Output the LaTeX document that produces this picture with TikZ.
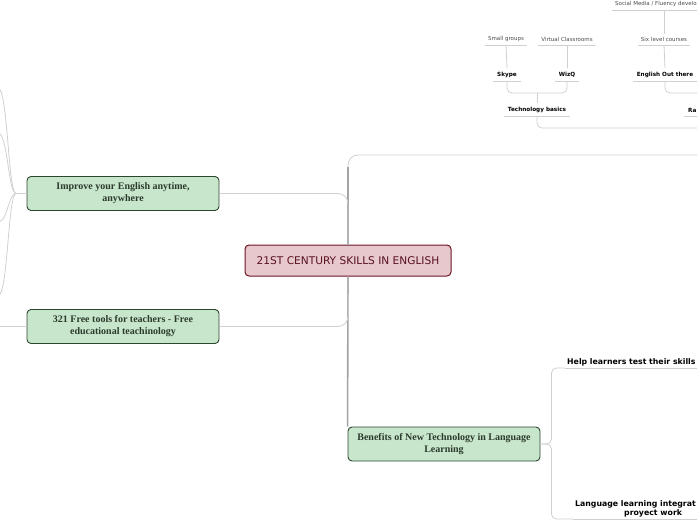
\documentclass[tikz,border=0pt]{standalone}
\usepackage{fontspec}
\setmainfont{Liberation Serif}
\setsansfont{DejaVu Sans}
\usetikzlibrary{positioning}
\definecolor{topicfill}{HTML}{C8E6CB}
\definecolor{topicline}{HTML}{2C4630}
\definecolor{topictext}{HTML}{2B3A2C}
\definecolor{rootfill}{HTML}{E6C8CD}
\definecolor{rootline}{HTML}{6A1426}
\definecolor{branchgray}{HTML}{D0D0D0}
\definecolor{trunkgray}{HTML}{A3A3A3}
\tikzset{
  topic/.style={draw=topicline, fill=topicfill, line width=0.9pt, rounded corners=4pt, minimum width=192pt, minimum height=34pt, align=center, text=topictext, font=\bfseries\fontsize{10}{12}\selectfont},
  rootbox/.style={draw=rootline, fill=rootfill, line width=1pt, rounded corners=4pt, minimum width=206pt, minimum height=31pt, text=rootline!85!black, font=\sffamily\fontsize{10.6}{12}\selectfont},
  subtopic/.style={font=\sffamily\bfseries\fontsize{5.7}{7}\selectfont, inner xsep=4pt, inner ysep=3.5pt},
  leaf/.style={font=\sffamily\fontsize{5.5}{7}\selectfont, text=black!70, inner xsep=3pt, inner ysep=3pt},
  bigleaf/.style={font=\sffamily\bfseries\fontsize{7.8}{9}\selectfont, align=left, inner xsep=2pt, inner ysep=2pt},
  branch/.style={draw=branchgray, line width=0.8pt, rounded corners=5pt},
  trunk/.style={draw=trunkgray, line width=1.6pt},
}

\begin{document}
\begin{tikzpicture}[x=1pt, y=-1pt]
    \useasboundingbox (0,0) rectangle (697,520);

    \node[rootbox] (root) at (348,260.5) {21ST CENTURY SKILLS IN ENGLISH};
    \node[topic] (improve) at (123,193.5) {Improve your English anytime,\\ anywhere};
    \node[topic] (tools) at (123,326.5) {321 Free tools for teachers - Free\\ educational teachinology};
    \node[topic] (benefits) at (444,444) {Benefits of New Technology in Language\\ Learning};

    \node[leaf, anchor=south] (small) at (506,45) {Small groups};
    \node[leaf, anchor=south] (virtual) at (567,45) {Virtual Classrooms};
    \node[subtopic, anchor=south] (skype) at (507,81) {Skype};
    \node[subtopic, anchor=south] (wizq) at (567,81) {WizQ};
    \node[subtopic, anchor=south] (techbasics) at (537,116) {Technology basics};
    \node[leaf, anchor=south west] (social) at (612,10) {Social Media / Fluency develo};
    \node[leaf, anchor=south] (sixlevel) at (664,45) {Six level courses};
    \node[subtopic, anchor=south] (english) at (665,81) {English Out there};
    \node[subtopic, anchor=south west] (ra) at (684,116) {Ra};

    \node[bigleaf, anchor=south west] (help) at (565,368) {Help learners test their skills};
    \node[bigleaf, anchor=south west] (lang) at (573,519) {Language learning integrat\\\hspace*{49pt}proyect work};

    \coordinate (ljoin) at (16,193.5);
    \coordinate (techjoin) at (537,93);
    \coordinate (offA) at (700,128);
    \coordinate (offB) at (700,93);
    \coordinate (offC) at (700,155);
    \coordinate (offD) at (-2,326.5);

    \draw[branch, rounded corners=10pt] (root.north) |- (offC);
    \draw[trunk] (root.north) -- ++(0,-78);
    \draw[trunk] (root.south) -- (benefits.north west);
    \draw[branch, rounded corners=10pt] (improve.east) -| (root.north);
    \draw[branch, rounded corners=10pt] (tools.east) -| (root.south);

    \draw[branch] (improve.west) -- (ljoin);
    \foreach \n/\y in {stubA/88, stubB/133, stubC/222, stubD/296} {
        \coordinate (\n) at (-2,\y);
        \draw[branch] (ljoin) .. controls (8,193.5) and (8,\y) .. (\n);
    }
    \draw[branch] (tools.west) -- (offD);

    \draw[branch] (techbasics.south) |- (offA);
    \draw[branch] (skype.south) |- (techjoin) -| (wizq.south);
    \draw[branch] (techjoin) -- (techbasics.north);
    \draw[branch] (skype.north) -- (small.south);
    \draw[branch] (wizq.north) -- (virtual.south);
    \draw[branch] (english.south) |- (offB);
    \draw[branch] (english.north) -- (sixlevel.south);
    \draw[branch] (sixlevel.north) -- (sixlevel.north |- social.south);

    \draw[branch] (benefits.east) -- ++(11,0) |- (help.south west);
    \draw[branch] (benefits.east) -- ++(11,0) |- (lang.south west);

    \foreach \n in {small,virtual,skype,wizq,techbasics,social,sixlevel,english,ra,help,lang}
        \draw[branch] (\n.south west) -- (\n.south east);
\end{tikzpicture}
\end{document}
